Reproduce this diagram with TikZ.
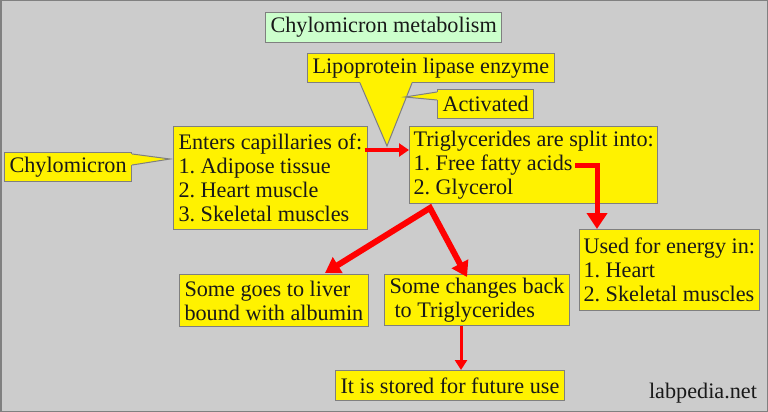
\documentclass[tikz,border=0pt]{standalone}
\usepackage{fontspec}
\setmainfont{Liberation Serif}
\usepackage{tikz}
\usetikzlibrary{arrows.meta}
\frenchspacing

\definecolor{bggray}{HTML}{CCCCCC}
\definecolor{mintgreen}{HTML}{CCFFCC}
\definecolor{boxline}{HTML}{7F7F7F}

\begin{document}
\begin{tikzpicture}[
            x=1pt, y=-1pt,
            every node/.style={font=\fontsize{22.2pt}{24pt}\selectfont, text=black!90},
            titlebox/.style  ={rectangle, draw=boxline, fill=mintgreen, line width=1pt,
                               anchor=north west, inner xsep=5pt, inner ysep=0pt, align=center},
            infobox/.style   ={rectangle, draw=boxline, fill=yellow, line width=1pt,
                               anchor=north west, inner xsep=5pt, inner ysep=0pt, align=left},
            pointer/.style   ={draw=boxline, line width=1pt, line join=miter},
            arrow/.style     ={-{Triangle[length=10pt, width=13pt]}, line width=4pt, red},
            fatarrow/.style  ={-{Triangle[length=16pt, width=20pt]}, line width=5pt, red},
            splitarrow/.style={{Triangle[length=15pt, width=18pt]}-{Triangle[length=15pt, width=18pt]},
                               line width=6pt, red, line join=miter},
            thinarrow/.style ={-{Triangle[length=10pt, width=12pt]}, line width=3pt, red}
        ]
        \useasboundingbox (0,0) rectangle (768,412);
        \draw[fill=bggray, draw=gray, line width=1.5pt] (0.75,0.75) rectangle (767.25,411.25);

        \node[titlebox, minimum height=30pt] (title) at (265,12) {Chylomicron metabolism};
        \node[infobox, minimum height=29pt]  (lipase) at (307,53) {Lipoprotein lipase enzyme};
        \node[infobox, minimum height=29pt]  (activ)  at (437,89) {Activated};
        \node[infobox, minimum height=29pt]  (chylo)  at (4,152)  {Chylomicron};
        \node[infobox, minimum height=103pt] (enters) at (173,126)
             {Enters capillaries of:\\1. Adipose tissue\\2. Heart muscle\\3. Skeletal muscles};
        \node[infobox, minimum height=77pt, inner xsep=4pt] (trig) at (409,126)
             {Triglycerides are split into:\\1. Free fatty acids\\2. Glycerol};
        \node[infobox, minimum height=81pt, inner xsep=4pt] (energy) at (579,229)
             {Used for energy in:\\1. Heart\\2. Skeletal muscles};
        \node[infobox, minimum height=52pt] (liver)  at (179,274)
             {Some goes to liver\\bound with albumin};
        \node[infobox, minimum height=51pt] (change) at (384,274)
             {Some changes back\\\hspace*{5pt}to Triglycerides};
        \node[infobox, minimum height=30pt] (stored) at (335,370) {It is stored for future use};
        \node (site) at (703,393) {labpedia.net};

        \coordinate (lipasetip) at (387,146);
        \coordinate (activtip)  at (405,97);
        \coordinate (chylotip)  at (170,159);
        \fill[yellow] ([xshift=53pt, yshift=1.2pt]lipase.south west) -- (lipasetip)
                   -- ([xshift=105pt, yshift=1.2pt]lipase.south west) -- cycle;
        \draw[pointer] ([xshift=53pt]lipase.south west) -- (lipasetip) -- ([xshift=105pt]lipase.south west);
        \fill[yellow] ([xshift=1.2pt, yshift=-3pt]activ.north west) -- (activtip)
                   -- ([xshift=1.2pt, yshift=-11pt]activ.north west) -- cycle;
        \draw[pointer] ([yshift=-3pt]activ.north west) -- (activtip) -- ([yshift=-11pt]activ.north west);
        \fill[yellow] ([xshift=-1.2pt, yshift=-2pt]chylo.north east) -- (chylotip)
                   -- ([xshift=-1.2pt, yshift=-13pt]chylo.north east) -- cycle;
        \draw[pointer] ([yshift=-2pt]chylo.north east) -- (chylotip) -- ([yshift=-13pt]chylo.north east);

        \coordinate (ffa)   at (575,165);
        \coordinate (split) at (430,208);
        \draw[arrow] ([xshift=-3pt]enters.east |- 0,150) -- (trig.west |- 0,150);
        \draw[fatarrow] (ffa) -| ([xshift=18pt]energy.north west);
        \draw[splitarrow] ([xshift=146pt, yshift=1pt]liver.north west) -- (split)
                       -- ([xshift=83pt, yshift=-3pt]change.north west);
        \draw[thinarrow] ([xshift=77pt]change.south west) -- ([xshift=77pt]change.south west |- stored.north);
\end{tikzpicture}
\end{document}
